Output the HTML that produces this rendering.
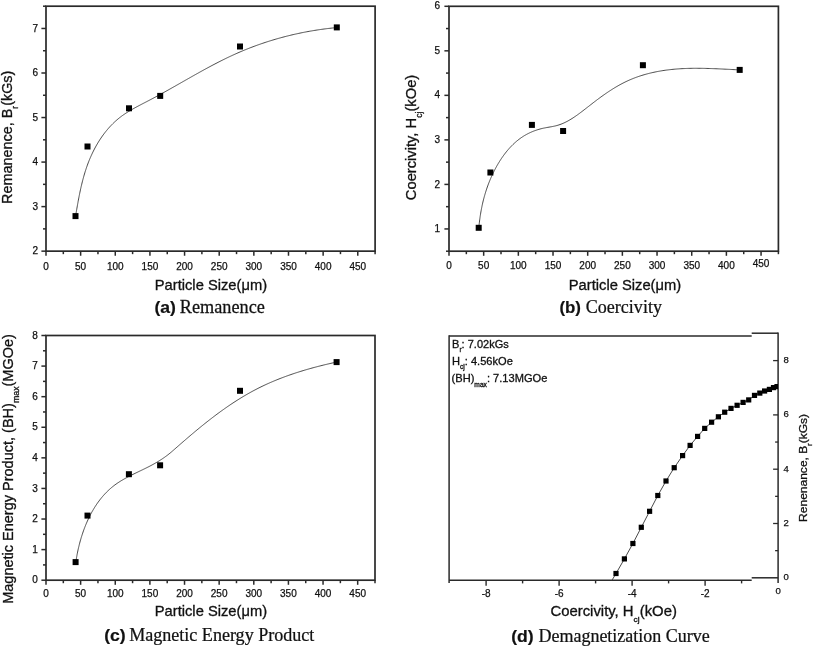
<!DOCTYPE html>
<html><head><meta charset="utf-8"><title>Figure</title>
<style>html,body{margin:0;padding:0;background:#fff;width:813px;height:647px;overflow:hidden}svg{display:block}</style>
</head><body>
<svg width="813" height="647" viewBox="0 0 813 647">
<rect width="813" height="647" fill="#fff"/>
<rect x="46.00" y="6.20" width="329.10" height="244.95" fill="none" stroke="#2a2a2a" stroke-width="1.7"/>
<line x1="46.00" y1="251.15" x2="46.00" y2="255.75" stroke="#2a2a2a" stroke-width="1.50"/>
<text x="46.00" y="270.10" font-family="Liberation Sans, Arial, sans-serif" font-size="10.00" font-weight="normal" text-anchor="middle" fill="#111" stroke="#111" stroke-width="0.25">0</text>
<line x1="63.32" y1="251.15" x2="63.32" y2="254.15" stroke="#2a2a2a" stroke-width="1.50"/>
<line x1="80.64" y1="251.15" x2="80.64" y2="255.75" stroke="#2a2a2a" stroke-width="1.50"/>
<text x="80.64" y="270.10" font-family="Liberation Sans, Arial, sans-serif" font-size="10.00" font-weight="normal" text-anchor="middle" fill="#111" stroke="#111" stroke-width="0.25">50</text>
<line x1="97.96" y1="251.15" x2="97.96" y2="254.15" stroke="#2a2a2a" stroke-width="1.50"/>
<line x1="115.28" y1="251.15" x2="115.28" y2="255.75" stroke="#2a2a2a" stroke-width="1.50"/>
<text x="115.28" y="270.10" font-family="Liberation Sans, Arial, sans-serif" font-size="10.00" font-weight="normal" text-anchor="middle" fill="#111" stroke="#111" stroke-width="0.25">100</text>
<line x1="132.61" y1="251.15" x2="132.61" y2="254.15" stroke="#2a2a2a" stroke-width="1.50"/>
<line x1="149.93" y1="251.15" x2="149.93" y2="255.75" stroke="#2a2a2a" stroke-width="1.50"/>
<text x="149.93" y="270.10" font-family="Liberation Sans, Arial, sans-serif" font-size="10.00" font-weight="normal" text-anchor="middle" fill="#111" stroke="#111" stroke-width="0.25">150</text>
<line x1="167.25" y1="251.15" x2="167.25" y2="254.15" stroke="#2a2a2a" stroke-width="1.50"/>
<line x1="184.57" y1="251.15" x2="184.57" y2="255.75" stroke="#2a2a2a" stroke-width="1.50"/>
<text x="184.57" y="270.10" font-family="Liberation Sans, Arial, sans-serif" font-size="10.00" font-weight="normal" text-anchor="middle" fill="#111" stroke="#111" stroke-width="0.25">200</text>
<line x1="201.89" y1="251.15" x2="201.89" y2="254.15" stroke="#2a2a2a" stroke-width="1.50"/>
<line x1="219.21" y1="251.15" x2="219.21" y2="255.75" stroke="#2a2a2a" stroke-width="1.50"/>
<text x="219.21" y="270.10" font-family="Liberation Sans, Arial, sans-serif" font-size="10.00" font-weight="normal" text-anchor="middle" fill="#111" stroke="#111" stroke-width="0.25">250</text>
<line x1="236.53" y1="251.15" x2="236.53" y2="254.15" stroke="#2a2a2a" stroke-width="1.50"/>
<line x1="253.85" y1="251.15" x2="253.85" y2="255.75" stroke="#2a2a2a" stroke-width="1.50"/>
<text x="253.85" y="270.10" font-family="Liberation Sans, Arial, sans-serif" font-size="10.00" font-weight="normal" text-anchor="middle" fill="#111" stroke="#111" stroke-width="0.25">300</text>
<line x1="271.17" y1="251.15" x2="271.17" y2="254.15" stroke="#2a2a2a" stroke-width="1.50"/>
<line x1="288.49" y1="251.15" x2="288.49" y2="255.75" stroke="#2a2a2a" stroke-width="1.50"/>
<text x="288.49" y="270.10" font-family="Liberation Sans, Arial, sans-serif" font-size="10.00" font-weight="normal" text-anchor="middle" fill="#111" stroke="#111" stroke-width="0.25">350</text>
<line x1="305.82" y1="251.15" x2="305.82" y2="254.15" stroke="#2a2a2a" stroke-width="1.50"/>
<line x1="323.14" y1="251.15" x2="323.14" y2="255.75" stroke="#2a2a2a" stroke-width="1.50"/>
<text x="323.14" y="270.10" font-family="Liberation Sans, Arial, sans-serif" font-size="10.00" font-weight="normal" text-anchor="middle" fill="#111" stroke="#111" stroke-width="0.25">400</text>
<line x1="340.46" y1="251.15" x2="340.46" y2="254.15" stroke="#2a2a2a" stroke-width="1.50"/>
<line x1="357.78" y1="251.15" x2="357.78" y2="255.75" stroke="#2a2a2a" stroke-width="1.50"/>
<text x="357.78" y="270.10" font-family="Liberation Sans, Arial, sans-serif" font-size="10.00" font-weight="normal" text-anchor="middle" fill="#111" stroke="#111" stroke-width="0.25">450</text>
<line x1="375.10" y1="251.15" x2="375.10" y2="254.15" stroke="#2a2a2a" stroke-width="1.50"/>
<line x1="41.40" y1="251.15" x2="46.00" y2="251.15" stroke="#2a2a2a" stroke-width="1.50"/>
<text x="38.00" y="254.25" font-family="Liberation Sans, Arial, sans-serif" font-size="10.00" font-weight="normal" text-anchor="end" fill="#111" stroke="#111" stroke-width="0.25">2</text>
<line x1="43.00" y1="228.88" x2="46.00" y2="228.88" stroke="#2a2a2a" stroke-width="1.50"/>
<line x1="41.40" y1="206.61" x2="46.00" y2="206.61" stroke="#2a2a2a" stroke-width="1.50"/>
<text x="38.00" y="209.71" font-family="Liberation Sans, Arial, sans-serif" font-size="10.00" font-weight="normal" text-anchor="end" fill="#111" stroke="#111" stroke-width="0.25">3</text>
<line x1="43.00" y1="184.35" x2="46.00" y2="184.35" stroke="#2a2a2a" stroke-width="1.50"/>
<line x1="41.40" y1="162.08" x2="46.00" y2="162.08" stroke="#2a2a2a" stroke-width="1.50"/>
<text x="38.00" y="165.18" font-family="Liberation Sans, Arial, sans-serif" font-size="10.00" font-weight="normal" text-anchor="end" fill="#111" stroke="#111" stroke-width="0.25">4</text>
<line x1="43.00" y1="139.81" x2="46.00" y2="139.81" stroke="#2a2a2a" stroke-width="1.50"/>
<line x1="41.40" y1="117.54" x2="46.00" y2="117.54" stroke="#2a2a2a" stroke-width="1.50"/>
<text x="38.00" y="120.64" font-family="Liberation Sans, Arial, sans-serif" font-size="10.00" font-weight="normal" text-anchor="end" fill="#111" stroke="#111" stroke-width="0.25">5</text>
<line x1="43.00" y1="95.27" x2="46.00" y2="95.27" stroke="#2a2a2a" stroke-width="1.50"/>
<line x1="41.40" y1="73.00" x2="46.00" y2="73.00" stroke="#2a2a2a" stroke-width="1.50"/>
<text x="38.00" y="76.10" font-family="Liberation Sans, Arial, sans-serif" font-size="10.00" font-weight="normal" text-anchor="end" fill="#111" stroke="#111" stroke-width="0.25">6</text>
<line x1="43.00" y1="50.74" x2="46.00" y2="50.74" stroke="#2a2a2a" stroke-width="1.50"/>
<line x1="41.40" y1="28.47" x2="46.00" y2="28.47" stroke="#2a2a2a" stroke-width="1.50"/>
<text x="38.00" y="31.57" font-family="Liberation Sans, Arial, sans-serif" font-size="10.00" font-weight="normal" text-anchor="end" fill="#111" stroke="#111" stroke-width="0.25">7</text>
<line x1="43.00" y1="6.20" x2="46.00" y2="6.20" stroke="#2a2a2a" stroke-width="1.50"/>
<path d="M75.59,216.03 L75.79,214.89 L75.98,213.76 L76.17,212.63 L76.37,211.49 L76.56,210.36 L76.76,209.22 L76.95,208.08 L77.15,206.95 L77.35,205.81 L77.55,204.67 L77.76,203.53 L77.97,202.39 L78.17,201.25 L78.39,200.10 L78.60,198.96 L78.82,197.82 L79.04,196.68 L79.26,195.54 L79.49,194.40 L79.72,193.26 L79.96,192.12 L80.20,190.98 L80.45,189.84 L80.70,188.70 L80.95,187.56 L81.21,186.42 L81.48,185.29 L81.75,184.15 L82.02,183.02 L82.31,181.89 L82.59,180.76 L82.89,179.63 L83.19,178.50 L83.50,177.37 L83.81,176.25 L84.13,175.12 L84.46,174.00 L84.80,172.88 L85.14,171.77 L85.50,170.65 L85.86,169.54 L86.22,168.43 L86.60,167.32 L86.99,166.22 L87.38,165.11 L87.79,164.01 L88.20,162.92 L88.62,161.82 L89.05,160.73 L89.49,159.64 L89.95,158.56 L90.41,157.48 L90.88,156.40 L91.36,155.33 L91.85,154.26 L92.35,153.20 L92.86,152.14 L93.38,151.09 L93.91,150.04 L94.45,148.99 L95.00,147.96 L95.56,146.93 L96.13,145.90 L96.71,144.88 L97.30,143.87 L97.90,142.86 L98.51,141.86 L99.13,140.87 L99.76,139.89 L100.40,138.91 L101.05,137.94 L101.71,136.98 L102.38,136.03 L103.06,135.08 L103.75,134.15 L104.45,133.22 L105.16,132.31 L105.88,131.40 L106.61,130.50 L107.35,129.61 L108.10,128.73 L108.86,127.87 L109.63,127.01 L110.42,126.16 L111.21,125.33 L112.01,124.50 L112.82,123.69 L113.65,122.89 L114.48,122.10 L115.33,121.32 L116.18,120.56 L117.05,119.80 L117.92,119.06 L118.81,118.34 L119.70,117.62 L120.61,116.92 L121.53,116.23 L122.46,115.56 L123.39,114.89 L124.34,114.24 L125.29,113.60 L126.25,112.97 L127.22,112.35 L128.20,111.74 L129.18,111.13 L130.17,110.54 L131.17,109.95 L132.17,109.37 L133.18,108.80 L134.19,108.23 L135.21,107.66 L136.23,107.11 L137.26,106.55 L138.29,106.01 L139.32,105.46 L140.35,104.92 L141.39,104.38 L142.42,103.84 L143.46,103.30 L144.50,102.76 L145.54,102.23 L146.58,101.69 L147.62,101.15 L148.66,100.61 L149.70,100.07 L150.74,99.53 L151.77,98.98 L152.81,98.43 L153.84,97.88 L154.87,97.33 L155.90,96.78 L156.93,96.22 L157.96,95.67 L158.98,95.11 L160.01,94.55 L161.04,93.99 L162.06,93.42 L163.08,92.86 L164.11,92.29 L165.13,91.72 L166.15,91.16 L167.17,90.59 L168.19,90.02 L169.21,89.44 L170.22,88.87 L171.24,88.30 L172.26,87.72 L173.27,87.15 L174.29,86.58 L175.30,86.00 L176.32,85.42 L177.33,84.85 L178.35,84.27 L179.36,83.69 L180.38,83.12 L181.39,82.54 L182.40,81.96 L183.42,81.39 L184.43,80.81 L185.44,80.23 L186.46,79.66 L187.47,79.08 L188.48,78.50 L189.50,77.93 L190.51,77.36 L191.52,76.78 L192.54,76.21 L193.55,75.64 L194.56,75.07 L195.58,74.50 L196.59,73.93 L197.61,73.36 L198.63,72.79 L199.64,72.23 L200.66,71.66 L201.68,71.10 L202.70,70.54 L203.71,69.98 L204.73,69.42 L205.75,68.86 L206.77,68.31 L207.80,67.76 L208.82,67.20 L209.84,66.66 L210.87,66.11 L211.89,65.56 L212.92,65.02 L213.95,64.48 L214.98,63.94 L216.01,63.41 L217.04,62.88 L218.07,62.34 L219.10,61.82 L220.14,61.29 L221.17,60.77 L222.21,60.25 L223.25,59.73 L224.29,59.22 L225.33,58.71 L226.37,58.20 L227.42,57.70 L228.46,57.20 L229.51,56.70 L230.56,56.21 L231.61,55.72 L232.66,55.23 L233.72,54.75 L234.78,54.27 L235.83,53.80 L236.89,53.32 L237.96,52.86 L239.02,52.39 L240.09,51.93 L241.16,51.48 L242.23,51.03 L243.30,50.58 L244.37,50.14 L245.45,49.70 L246.52,49.26 L247.60,48.83 L248.68,48.40 L249.77,47.98 L250.85,47.56 L251.94,47.15 L253.02,46.74 L254.11,46.33 L255.20,45.93 L256.30,45.53 L257.39,45.13 L258.49,44.74 L259.59,44.35 L260.68,43.97 L261.78,43.59 L262.89,43.22 L263.99,42.85 L265.10,42.48 L266.20,42.12 L267.31,41.76 L268.42,41.40 L269.53,41.05 L270.64,40.71 L271.76,40.36 L272.87,40.03 L273.99,39.69 L275.10,39.36 L276.22,39.03 L277.34,38.71 L278.46,38.39 L279.59,38.08 L280.71,37.77 L281.83,37.46 L282.96,37.16 L284.09,36.86 L285.22,36.57 L286.35,36.28 L287.48,36.00 L288.61,35.71 L289.74,35.44 L290.87,35.16 L292.01,34.89 L293.14,34.63 L294.28,34.37 L295.42,34.11 L296.56,33.86 L297.70,33.61 L298.84,33.36 L299.98,33.12 L301.12,32.89 L302.26,32.65 L303.40,32.42 L304.55,32.20 L305.69,31.98 L306.84,31.76 L307.99,31.55 L309.13,31.34 L310.28,31.14 L311.43,30.94 L312.58,30.74 L313.73,30.55 L314.88,30.36 L316.03,30.18 L317.18,30.00 L318.33,29.82 L319.49,29.65 L320.64,29.49 L321.79,29.32 L322.95,29.16 L324.10,29.01 L325.26,28.86 L326.41,28.71 L327.57,28.57 L328.73,28.43 L329.88,28.30 L331.04,28.17 L332.20,28.04 L333.36,27.92 L334.51,27.80 L335.67,27.69 L336.83,27.58" fill="none" stroke="#4a4a4a" stroke-width="1.0"/>
<rect x="72.50" y="213.10" width="6.00" height="6.00" fill="#000"/>
<rect x="84.50" y="143.50" width="6.00" height="6.00" fill="#000"/>
<rect x="126.00" y="105.30" width="6.00" height="6.00" fill="#000"/>
<rect x="157.20" y="92.90" width="6.00" height="6.00" fill="#000"/>
<rect x="237.00" y="43.50" width="6.00" height="6.00" fill="#000"/>
<rect x="333.80" y="24.40" width="6.00" height="6.00" fill="#000"/>
<rect x="449.00" y="6.30" width="329.40" height="244.90" fill="none" stroke="#2a2a2a" stroke-width="1.7"/>
<line x1="449.00" y1="251.20" x2="449.00" y2="255.80" stroke="#2a2a2a" stroke-width="1.50"/>
<text x="449.00" y="269.40" font-family="Liberation Sans, Arial, sans-serif" font-size="10.00" font-weight="normal" text-anchor="middle" fill="#111" stroke="#111" stroke-width="0.25">0</text>
<line x1="466.34" y1="251.20" x2="466.34" y2="254.20" stroke="#2a2a2a" stroke-width="1.50"/>
<line x1="483.67" y1="251.20" x2="483.67" y2="255.80" stroke="#2a2a2a" stroke-width="1.50"/>
<text x="483.67" y="269.40" font-family="Liberation Sans, Arial, sans-serif" font-size="10.00" font-weight="normal" text-anchor="middle" fill="#111" stroke="#111" stroke-width="0.25">50</text>
<line x1="501.01" y1="251.20" x2="501.01" y2="254.20" stroke="#2a2a2a" stroke-width="1.50"/>
<line x1="518.35" y1="251.20" x2="518.35" y2="255.80" stroke="#2a2a2a" stroke-width="1.50"/>
<text x="518.35" y="269.40" font-family="Liberation Sans, Arial, sans-serif" font-size="10.00" font-weight="normal" text-anchor="middle" fill="#111" stroke="#111" stroke-width="0.25">100</text>
<line x1="535.68" y1="251.20" x2="535.68" y2="254.20" stroke="#2a2a2a" stroke-width="1.50"/>
<line x1="553.02" y1="251.20" x2="553.02" y2="255.80" stroke="#2a2a2a" stroke-width="1.50"/>
<text x="553.02" y="269.40" font-family="Liberation Sans, Arial, sans-serif" font-size="10.00" font-weight="normal" text-anchor="middle" fill="#111" stroke="#111" stroke-width="0.25">150</text>
<line x1="570.36" y1="251.20" x2="570.36" y2="254.20" stroke="#2a2a2a" stroke-width="1.50"/>
<line x1="587.69" y1="251.20" x2="587.69" y2="255.80" stroke="#2a2a2a" stroke-width="1.50"/>
<text x="587.69" y="269.40" font-family="Liberation Sans, Arial, sans-serif" font-size="10.00" font-weight="normal" text-anchor="middle" fill="#111" stroke="#111" stroke-width="0.25">200</text>
<line x1="605.03" y1="251.20" x2="605.03" y2="254.20" stroke="#2a2a2a" stroke-width="1.50"/>
<line x1="622.37" y1="251.20" x2="622.37" y2="255.80" stroke="#2a2a2a" stroke-width="1.50"/>
<text x="622.37" y="269.40" font-family="Liberation Sans, Arial, sans-serif" font-size="10.00" font-weight="normal" text-anchor="middle" fill="#111" stroke="#111" stroke-width="0.25">250</text>
<line x1="639.71" y1="251.20" x2="639.71" y2="254.20" stroke="#2a2a2a" stroke-width="1.50"/>
<line x1="657.04" y1="251.20" x2="657.04" y2="255.80" stroke="#2a2a2a" stroke-width="1.50"/>
<text x="657.04" y="269.40" font-family="Liberation Sans, Arial, sans-serif" font-size="10.00" font-weight="normal" text-anchor="middle" fill="#111" stroke="#111" stroke-width="0.25">300</text>
<line x1="674.38" y1="251.20" x2="674.38" y2="254.20" stroke="#2a2a2a" stroke-width="1.50"/>
<line x1="691.72" y1="251.20" x2="691.72" y2="255.80" stroke="#2a2a2a" stroke-width="1.50"/>
<text x="691.72" y="269.40" font-family="Liberation Sans, Arial, sans-serif" font-size="10.00" font-weight="normal" text-anchor="middle" fill="#111" stroke="#111" stroke-width="0.25">350</text>
<line x1="709.05" y1="251.20" x2="709.05" y2="254.20" stroke="#2a2a2a" stroke-width="1.50"/>
<line x1="726.39" y1="251.20" x2="726.39" y2="255.80" stroke="#2a2a2a" stroke-width="1.50"/>
<text x="726.39" y="269.40" font-family="Liberation Sans, Arial, sans-serif" font-size="10.00" font-weight="normal" text-anchor="middle" fill="#111" stroke="#111" stroke-width="0.25">400</text>
<line x1="743.73" y1="251.20" x2="743.73" y2="254.20" stroke="#2a2a2a" stroke-width="1.50"/>
<line x1="761.06" y1="251.20" x2="761.06" y2="255.80" stroke="#2a2a2a" stroke-width="1.50"/>
<text x="761.06" y="267.20" font-family="Liberation Sans, Arial, sans-serif" font-size="10.00" font-weight="normal" text-anchor="middle" fill="#111" stroke="#111" stroke-width="0.25">450</text>
<line x1="778.40" y1="251.20" x2="778.40" y2="254.20" stroke="#2a2a2a" stroke-width="1.50"/>
<line x1="446.00" y1="251.20" x2="449.00" y2="251.20" stroke="#2a2a2a" stroke-width="1.50"/>
<line x1="444.40" y1="228.94" x2="449.00" y2="228.94" stroke="#2a2a2a" stroke-width="1.50"/>
<text x="440.00" y="232.04" font-family="Liberation Sans, Arial, sans-serif" font-size="10.00" font-weight="normal" text-anchor="end" fill="#111" stroke="#111" stroke-width="0.25">1</text>
<line x1="446.00" y1="206.67" x2="449.00" y2="206.67" stroke="#2a2a2a" stroke-width="1.50"/>
<line x1="444.40" y1="184.41" x2="449.00" y2="184.41" stroke="#2a2a2a" stroke-width="1.50"/>
<text x="440.00" y="187.51" font-family="Liberation Sans, Arial, sans-serif" font-size="10.00" font-weight="normal" text-anchor="end" fill="#111" stroke="#111" stroke-width="0.25">2</text>
<line x1="446.00" y1="162.15" x2="449.00" y2="162.15" stroke="#2a2a2a" stroke-width="1.50"/>
<line x1="444.40" y1="139.88" x2="449.00" y2="139.88" stroke="#2a2a2a" stroke-width="1.50"/>
<text x="440.00" y="142.98" font-family="Liberation Sans, Arial, sans-serif" font-size="10.00" font-weight="normal" text-anchor="end" fill="#111" stroke="#111" stroke-width="0.25">3</text>
<line x1="446.00" y1="117.62" x2="449.00" y2="117.62" stroke="#2a2a2a" stroke-width="1.50"/>
<line x1="444.40" y1="95.35" x2="449.00" y2="95.35" stroke="#2a2a2a" stroke-width="1.50"/>
<text x="440.00" y="98.45" font-family="Liberation Sans, Arial, sans-serif" font-size="10.00" font-weight="normal" text-anchor="end" fill="#111" stroke="#111" stroke-width="0.25">4</text>
<line x1="446.00" y1="73.09" x2="449.00" y2="73.09" stroke="#2a2a2a" stroke-width="1.50"/>
<line x1="444.40" y1="50.83" x2="449.00" y2="50.83" stroke="#2a2a2a" stroke-width="1.50"/>
<text x="440.00" y="53.93" font-family="Liberation Sans, Arial, sans-serif" font-size="10.00" font-weight="normal" text-anchor="end" fill="#111" stroke="#111" stroke-width="0.25">5</text>
<line x1="446.00" y1="28.56" x2="449.00" y2="28.56" stroke="#2a2a2a" stroke-width="1.50"/>
<line x1="444.40" y1="6.30" x2="449.00" y2="6.30" stroke="#2a2a2a" stroke-width="1.50"/>
<text x="440.00" y="9.40" font-family="Liberation Sans, Arial, sans-serif" font-size="10.00" font-weight="normal" text-anchor="end" fill="#111" stroke="#111" stroke-width="0.25">6</text>
<path d="M478.82,227.88 L478.93,226.72 L479.04,225.57 L479.16,224.42 L479.28,223.27 L479.41,222.13 L479.55,220.99 L479.70,219.85 L479.85,218.72 L480.00,217.59 L480.17,216.46 L480.34,215.33 L480.51,214.21 L480.70,213.09 L480.89,211.97 L481.08,210.85 L481.29,209.74 L481.50,208.63 L481.72,207.52 L481.94,206.42 L482.18,205.32 L482.42,204.22 L482.67,203.12 L482.92,202.03 L483.18,200.94 L483.46,199.85 L483.73,198.76 L484.02,197.68 L484.32,196.60 L484.62,195.52 L484.93,194.45 L485.25,193.37 L485.57,192.30 L485.91,191.23 L486.25,190.17 L486.60,189.11 L486.96,188.05 L487.33,186.99 L487.71,185.94 L488.10,184.88 L488.49,183.83 L488.90,182.79 L489.31,181.74 L489.73,180.70 L490.16,179.66 L490.60,178.62 L491.05,177.59 L491.51,176.56 L491.98,175.53 L492.45,174.50 L492.94,173.47 L493.44,172.45 L493.94,171.43 L494.46,170.41 L494.98,169.40 L495.52,168.39 L496.06,167.38 L496.62,166.37 L497.18,165.37 L497.76,164.38 L498.34,163.39 L498.94,162.41 L499.54,161.43 L500.16,160.46 L500.78,159.49 L501.42,158.53 L502.07,157.58 L502.72,156.64 L503.39,155.71 L504.07,154.78 L504.75,153.86 L505.45,152.96 L506.16,152.06 L506.88,151.17 L507.61,150.29 L508.35,149.43 L509.10,148.57 L509.87,147.73 L510.64,146.90 L511.43,146.08 L512.22,145.28 L513.03,144.48 L513.85,143.70 L514.67,142.94 L515.51,142.19 L516.37,141.45 L517.23,140.73 L518.10,140.03 L518.99,139.34 L519.88,138.67 L520.79,138.01 L521.71,137.37 L522.64,136.75 L523.58,136.15 L524.54,135.56 L525.50,135.00 L526.48,134.45 L527.47,133.92 L528.47,133.41 L529.48,132.92 L530.50,132.44 L531.52,131.99 L532.56,131.55 L533.61,131.13 L534.66,130.73 L535.73,130.35 L536.80,129.99 L537.88,129.64 L538.97,129.32 L540.06,129.01 L541.16,128.72 L542.27,128.45 L543.39,128.20 L544.51,127.97 L545.63,127.75 L546.76,127.54 L547.89,127.34 L549.02,127.15 L550.15,126.95 L551.27,126.75 L552.40,126.54 L553.51,126.32 L554.62,126.08 L555.72,125.83 L556.81,125.55 L557.89,125.24 L558.96,124.90 L560.01,124.54 L561.06,124.16 L562.10,123.75 L563.13,123.31 L564.14,122.86 L565.15,122.39 L566.15,121.89 L567.14,121.38 L568.13,120.85 L569.10,120.30 L570.07,119.73 L571.03,119.15 L571.99,118.56 L572.94,117.95 L573.88,117.33 L574.82,116.70 L575.75,116.06 L576.68,115.41 L577.60,114.75 L578.52,114.09 L579.43,113.41 L580.34,112.74 L581.25,112.05 L582.15,111.37 L583.06,110.68 L583.96,109.98 L584.85,109.29 L585.75,108.59 L586.64,107.90 L587.54,107.20 L588.43,106.50 L589.33,105.80 L590.22,105.10 L591.12,104.41 L592.01,103.71 L592.91,103.01 L593.81,102.32 L594.71,101.63 L595.62,100.94 L596.52,100.26 L597.43,99.57 L598.34,98.89 L599.26,98.22 L600.17,97.54 L601.09,96.87 L602.01,96.21 L602.93,95.55 L603.86,94.89 L604.79,94.24 L605.72,93.59 L606.66,92.95 L607.60,92.31 L608.54,91.68 L609.49,91.06 L610.43,90.44 L611.39,89.83 L612.34,89.22 L613.30,88.62 L614.27,88.03 L615.23,87.45 L616.21,86.87 L617.18,86.30 L618.16,85.74 L619.14,85.18 L620.13,84.64 L621.12,84.10 L622.12,83.57 L623.12,83.05 L624.13,82.54 L625.14,82.04 L626.15,81.55 L627.17,81.07 L628.20,80.60 L629.22,80.14 L630.26,79.69 L631.30,79.25 L632.34,78.82 L633.39,78.40 L634.44,77.99 L635.50,77.59 L636.56,77.20 L637.63,76.82 L638.69,76.45 L639.77,76.09 L640.84,75.74 L641.92,75.40 L643.01,75.07 L644.09,74.75 L645.18,74.43 L646.27,74.13 L647.37,73.84 L648.46,73.55 L649.56,73.27 L650.67,73.00 L651.77,72.74 L652.88,72.49 L653.98,72.25 L655.10,72.02 L656.21,71.79 L657.32,71.57 L658.43,71.36 L659.55,71.16 L660.67,70.97 L661.79,70.78 L662.91,70.60 L664.03,70.43 L665.15,70.27 L666.27,70.12 L667.39,69.97 L668.51,69.83 L669.63,69.70 L670.76,69.57 L671.88,69.45 L673.01,69.34 L674.13,69.23 L675.26,69.13 L676.38,69.04 L677.51,68.95 L678.64,68.87 L679.76,68.79 L680.89,68.73 L682.02,68.66 L683.15,68.60 L684.28,68.55 L685.41,68.50 L686.54,68.46 L687.67,68.42 L688.80,68.39 L689.93,68.37 L691.06,68.34 L692.19,68.32 L693.32,68.31 L694.45,68.30 L695.59,68.29 L696.72,68.29 L697.85,68.30 L698.98,68.30 L700.11,68.31 L701.25,68.32 L702.38,68.34 L703.51,68.36 L704.65,68.38 L705.78,68.41 L706.91,68.44 L708.04,68.47 L709.18,68.50 L710.31,68.54 L711.44,68.57 L712.57,68.61 L713.71,68.66 L714.84,68.70 L715.97,68.75 L717.10,68.79 L718.24,68.84 L719.37,68.89 L720.50,68.95 L721.63,69.00 L722.76,69.05 L723.89,69.11 L725.03,69.16 L726.16,69.22 L727.29,69.28 L728.42,69.33 L729.55,69.39 L730.67,69.45 L731.80,69.50 L732.93,69.56 L734.06,69.62 L735.19,69.67 L736.32,69.73 L737.44,69.78 L738.57,69.84 L739.69,69.89" fill="none" stroke="#4a4a4a" stroke-width="1.0"/>
<rect x="475.70" y="224.80" width="6.00" height="6.00" fill="#000"/>
<rect x="487.40" y="169.50" width="6.00" height="6.00" fill="#000"/>
<rect x="528.90" y="121.90" width="6.00" height="6.00" fill="#000"/>
<rect x="560.10" y="128.00" width="6.00" height="6.00" fill="#000"/>
<rect x="639.90" y="62.20" width="6.00" height="6.00" fill="#000"/>
<rect x="736.70" y="66.90" width="6.00" height="6.00" fill="#000"/>
<rect x="46.00" y="335.50" width="329.00" height="244.70" fill="none" stroke="#2a2a2a" stroke-width="1.7"/>
<line x1="46.00" y1="580.20" x2="46.00" y2="584.80" stroke="#2a2a2a" stroke-width="1.50"/>
<text x="46.00" y="596.90" font-family="Liberation Sans, Arial, sans-serif" font-size="10.00" font-weight="normal" text-anchor="middle" fill="#111" stroke="#111" stroke-width="0.25">0</text>
<line x1="63.32" y1="580.20" x2="63.32" y2="583.20" stroke="#2a2a2a" stroke-width="1.50"/>
<line x1="80.63" y1="580.20" x2="80.63" y2="584.80" stroke="#2a2a2a" stroke-width="1.50"/>
<text x="80.63" y="596.90" font-family="Liberation Sans, Arial, sans-serif" font-size="10.00" font-weight="normal" text-anchor="middle" fill="#111" stroke="#111" stroke-width="0.25">50</text>
<line x1="97.95" y1="580.20" x2="97.95" y2="583.20" stroke="#2a2a2a" stroke-width="1.50"/>
<line x1="115.26" y1="580.20" x2="115.26" y2="584.80" stroke="#2a2a2a" stroke-width="1.50"/>
<text x="115.26" y="596.90" font-family="Liberation Sans, Arial, sans-serif" font-size="10.00" font-weight="normal" text-anchor="middle" fill="#111" stroke="#111" stroke-width="0.25">100</text>
<line x1="132.58" y1="580.20" x2="132.58" y2="583.20" stroke="#2a2a2a" stroke-width="1.50"/>
<line x1="149.89" y1="580.20" x2="149.89" y2="584.80" stroke="#2a2a2a" stroke-width="1.50"/>
<text x="149.89" y="596.90" font-family="Liberation Sans, Arial, sans-serif" font-size="10.00" font-weight="normal" text-anchor="middle" fill="#111" stroke="#111" stroke-width="0.25">150</text>
<line x1="167.21" y1="580.20" x2="167.21" y2="583.20" stroke="#2a2a2a" stroke-width="1.50"/>
<line x1="184.53" y1="580.20" x2="184.53" y2="584.80" stroke="#2a2a2a" stroke-width="1.50"/>
<text x="184.53" y="596.90" font-family="Liberation Sans, Arial, sans-serif" font-size="10.00" font-weight="normal" text-anchor="middle" fill="#111" stroke="#111" stroke-width="0.25">200</text>
<line x1="201.84" y1="580.20" x2="201.84" y2="583.20" stroke="#2a2a2a" stroke-width="1.50"/>
<line x1="219.16" y1="580.20" x2="219.16" y2="584.80" stroke="#2a2a2a" stroke-width="1.50"/>
<text x="219.16" y="596.90" font-family="Liberation Sans, Arial, sans-serif" font-size="10.00" font-weight="normal" text-anchor="middle" fill="#111" stroke="#111" stroke-width="0.25">250</text>
<line x1="236.47" y1="580.20" x2="236.47" y2="583.20" stroke="#2a2a2a" stroke-width="1.50"/>
<line x1="253.79" y1="580.20" x2="253.79" y2="584.80" stroke="#2a2a2a" stroke-width="1.50"/>
<text x="253.79" y="596.90" font-family="Liberation Sans, Arial, sans-serif" font-size="10.00" font-weight="normal" text-anchor="middle" fill="#111" stroke="#111" stroke-width="0.25">300</text>
<line x1="271.11" y1="580.20" x2="271.11" y2="583.20" stroke="#2a2a2a" stroke-width="1.50"/>
<line x1="288.42" y1="580.20" x2="288.42" y2="584.80" stroke="#2a2a2a" stroke-width="1.50"/>
<text x="288.42" y="596.90" font-family="Liberation Sans, Arial, sans-serif" font-size="10.00" font-weight="normal" text-anchor="middle" fill="#111" stroke="#111" stroke-width="0.25">350</text>
<line x1="305.74" y1="580.20" x2="305.74" y2="583.20" stroke="#2a2a2a" stroke-width="1.50"/>
<line x1="323.05" y1="580.20" x2="323.05" y2="584.80" stroke="#2a2a2a" stroke-width="1.50"/>
<text x="323.05" y="596.90" font-family="Liberation Sans, Arial, sans-serif" font-size="10.00" font-weight="normal" text-anchor="middle" fill="#111" stroke="#111" stroke-width="0.25">400</text>
<line x1="340.37" y1="580.20" x2="340.37" y2="583.20" stroke="#2a2a2a" stroke-width="1.50"/>
<line x1="357.68" y1="580.20" x2="357.68" y2="584.80" stroke="#2a2a2a" stroke-width="1.50"/>
<text x="357.68" y="596.90" font-family="Liberation Sans, Arial, sans-serif" font-size="10.00" font-weight="normal" text-anchor="middle" fill="#111" stroke="#111" stroke-width="0.25">450</text>
<line x1="375.00" y1="580.20" x2="375.00" y2="583.20" stroke="#2a2a2a" stroke-width="1.50"/>
<line x1="41.40" y1="580.20" x2="46.00" y2="580.20" stroke="#2a2a2a" stroke-width="1.50"/>
<text x="37.80" y="583.30" font-family="Liberation Sans, Arial, sans-serif" font-size="10.00" font-weight="normal" text-anchor="end" fill="#111" stroke="#111" stroke-width="0.25">0</text>
<line x1="43.00" y1="564.91" x2="46.00" y2="564.91" stroke="#2a2a2a" stroke-width="1.50"/>
<line x1="41.40" y1="549.61" x2="46.00" y2="549.61" stroke="#2a2a2a" stroke-width="1.50"/>
<text x="37.80" y="552.71" font-family="Liberation Sans, Arial, sans-serif" font-size="10.00" font-weight="normal" text-anchor="end" fill="#111" stroke="#111" stroke-width="0.25">1</text>
<line x1="43.00" y1="534.32" x2="46.00" y2="534.32" stroke="#2a2a2a" stroke-width="1.50"/>
<line x1="41.40" y1="519.03" x2="46.00" y2="519.03" stroke="#2a2a2a" stroke-width="1.50"/>
<text x="37.80" y="522.13" font-family="Liberation Sans, Arial, sans-serif" font-size="10.00" font-weight="normal" text-anchor="end" fill="#111" stroke="#111" stroke-width="0.25">2</text>
<line x1="43.00" y1="503.73" x2="46.00" y2="503.73" stroke="#2a2a2a" stroke-width="1.50"/>
<line x1="41.40" y1="488.44" x2="46.00" y2="488.44" stroke="#2a2a2a" stroke-width="1.50"/>
<text x="37.80" y="491.54" font-family="Liberation Sans, Arial, sans-serif" font-size="10.00" font-weight="normal" text-anchor="end" fill="#111" stroke="#111" stroke-width="0.25">3</text>
<line x1="43.00" y1="473.14" x2="46.00" y2="473.14" stroke="#2a2a2a" stroke-width="1.50"/>
<line x1="41.40" y1="457.85" x2="46.00" y2="457.85" stroke="#2a2a2a" stroke-width="1.50"/>
<text x="37.80" y="460.95" font-family="Liberation Sans, Arial, sans-serif" font-size="10.00" font-weight="normal" text-anchor="end" fill="#111" stroke="#111" stroke-width="0.25">4</text>
<line x1="43.00" y1="442.56" x2="46.00" y2="442.56" stroke="#2a2a2a" stroke-width="1.50"/>
<line x1="41.40" y1="427.26" x2="46.00" y2="427.26" stroke="#2a2a2a" stroke-width="1.50"/>
<text x="37.80" y="430.36" font-family="Liberation Sans, Arial, sans-serif" font-size="10.00" font-weight="normal" text-anchor="end" fill="#111" stroke="#111" stroke-width="0.25">5</text>
<line x1="43.00" y1="411.97" x2="46.00" y2="411.97" stroke="#2a2a2a" stroke-width="1.50"/>
<line x1="41.40" y1="396.68" x2="46.00" y2="396.68" stroke="#2a2a2a" stroke-width="1.50"/>
<text x="37.80" y="399.78" font-family="Liberation Sans, Arial, sans-serif" font-size="10.00" font-weight="normal" text-anchor="end" fill="#111" stroke="#111" stroke-width="0.25">6</text>
<line x1="43.00" y1="381.38" x2="46.00" y2="381.38" stroke="#2a2a2a" stroke-width="1.50"/>
<line x1="41.40" y1="366.09" x2="46.00" y2="366.09" stroke="#2a2a2a" stroke-width="1.50"/>
<text x="37.80" y="369.19" font-family="Liberation Sans, Arial, sans-serif" font-size="10.00" font-weight="normal" text-anchor="end" fill="#111" stroke="#111" stroke-width="0.25">7</text>
<line x1="43.00" y1="350.79" x2="46.00" y2="350.79" stroke="#2a2a2a" stroke-width="1.50"/>
<line x1="41.40" y1="335.50" x2="46.00" y2="335.50" stroke="#2a2a2a" stroke-width="1.50"/>
<text x="37.80" y="338.60" font-family="Liberation Sans, Arial, sans-serif" font-size="10.00" font-weight="normal" text-anchor="end" fill="#111" stroke="#111" stroke-width="0.25">8</text>
<path d="M75.86,561.99 L76.02,560.90 L76.19,559.81 L76.36,558.72 L76.55,557.62 L76.74,556.52 L76.94,555.42 L77.15,554.31 L77.37,553.20 L77.59,552.09 L77.82,550.98 L78.06,549.86 L78.31,548.75 L78.57,547.63 L78.83,546.51 L79.11,545.39 L79.39,544.27 L79.68,543.15 L79.98,542.03 L80.28,540.91 L80.60,539.80 L80.93,538.68 L81.26,537.56 L81.60,536.45 L81.96,535.33 L82.32,534.22 L82.69,533.11 L83.07,532.00 L83.45,530.89 L83.85,529.79 L84.26,528.69 L84.68,527.59 L85.10,526.50 L85.54,525.41 L85.98,524.32 L86.44,523.24 L86.90,522.17 L87.38,521.09 L87.86,520.03 L88.35,518.96 L88.86,517.91 L89.37,516.85 L89.89,515.81 L90.43,514.77 L90.97,513.74 L91.53,512.71 L92.09,511.69 L92.67,510.68 L93.25,509.67 L93.85,508.68 L94.45,507.69 L95.07,506.71 L95.70,505.73 L96.34,504.77 L96.98,503.81 L97.64,502.87 L98.32,501.93 L99.00,501.00 L99.69,500.08 L100.39,499.18 L101.11,498.28 L101.84,497.39 L102.57,496.52 L103.32,495.65 L104.08,494.80 L104.85,493.96 L105.64,493.13 L106.43,492.31 L107.24,491.50 L108.06,490.71 L108.89,489.93 L109.73,489.16 L110.58,488.41 L111.45,487.67 L112.33,486.94 L113.22,486.23 L114.12,485.53 L115.03,484.84 L115.96,484.17 L116.89,483.52 L117.84,482.87 L118.80,482.24 L119.77,481.62 L120.74,481.01 L121.73,480.41 L122.72,479.83 L123.72,479.25 L124.73,478.68 L125.75,478.12 L126.77,477.56 L127.80,477.02 L128.83,476.48 L129.87,475.94 L130.91,475.41 L131.95,474.89 L133.00,474.37 L134.05,473.85 L135.10,473.34 L136.16,472.83 L137.21,472.32 L138.27,471.81 L139.33,471.31 L140.38,470.80 L141.44,470.29 L142.49,469.79 L143.54,469.28 L144.59,468.77 L145.64,468.25 L146.68,467.73 L147.72,467.21 L148.76,466.69 L149.79,466.16 L150.81,465.62 L151.83,465.08 L152.84,464.53 L153.85,463.97 L154.85,463.41 L155.84,462.84 L156.83,462.26 L157.81,461.68 L158.79,461.09 L159.75,460.48 L160.71,459.87 L161.67,459.25 L162.62,458.62 L163.56,457.98 L164.49,457.33 L165.42,456.67 L166.34,456.00 L167.25,455.32 L168.15,454.62 L169.05,453.92 L169.94,453.20 L170.82,452.47 L171.69,451.73 L172.56,450.98 L173.43,450.23 L174.29,449.47 L175.16,448.71 L176.02,447.95 L176.88,447.19 L177.75,446.43 L178.62,445.67 L179.48,444.91 L180.35,444.15 L181.22,443.40 L182.09,442.64 L182.96,441.88 L183.84,441.13 L184.71,440.37 L185.58,439.62 L186.46,438.86 L187.33,438.11 L188.21,437.36 L189.09,436.61 L189.97,435.86 L190.85,435.11 L191.73,434.37 L192.61,433.62 L193.50,432.88 L194.38,432.13 L195.27,431.39 L196.16,430.65 L197.05,429.92 L197.94,429.18 L198.83,428.44 L199.73,427.71 L200.62,426.98 L201.52,426.25 L202.42,425.52 L203.32,424.80 L204.22,424.07 L205.12,423.35 L206.03,422.63 L206.93,421.91 L207.84,421.20 L208.75,420.48 L209.66,419.77 L210.57,419.07 L211.49,418.36 L212.40,417.66 L213.32,416.96 L214.24,416.26 L215.16,415.56 L216.09,414.87 L217.01,414.18 L217.94,413.49 L218.87,412.81 L219.80,412.12 L220.73,411.45 L221.67,410.77 L222.61,410.10 L223.55,409.43 L224.49,408.76 L225.43,408.10 L226.38,407.44 L227.32,406.78 L228.27,406.13 L229.23,405.48 L230.18,404.84 L231.14,404.19 L232.10,403.55 L233.06,402.92 L234.02,402.29 L234.99,401.66 L235.96,401.04 L236.93,400.42 L237.90,399.80 L238.88,399.19 L239.85,398.58 L240.83,397.98 L241.82,397.38 L242.80,396.79 L243.79,396.20 L244.78,395.61 L245.78,395.03 L246.77,394.45 L247.77,393.88 L248.77,393.31 L249.78,392.75 L250.78,392.19 L251.79,391.63 L252.81,391.08 L253.82,390.54 L254.84,390.00 L255.86,389.47 L256.89,388.94 L257.91,388.41 L258.94,387.89 L259.98,387.38 L261.01,386.87 L262.05,386.37 L263.09,385.87 L264.14,385.37 L265.18,384.88 L266.23,384.40 L267.28,383.92 L268.34,383.45 L269.40,382.98 L270.45,382.51 L271.52,382.05 L272.58,381.60 L273.65,381.15 L274.71,380.70 L275.79,380.26 L276.86,379.82 L277.93,379.39 L279.01,378.96 L280.09,378.54 L281.17,378.12 L282.25,377.71 L283.34,377.30 L284.42,376.89 L285.51,376.49 L286.60,376.09 L287.69,375.70 L288.78,375.31 L289.88,374.93 L290.97,374.55 L292.07,374.17 L293.17,373.80 L294.27,373.43 L295.37,373.06 L296.47,372.70 L297.57,372.35 L298.68,372.00 L299.78,371.65 L300.89,371.30 L302.00,370.96 L303.11,370.63 L304.22,370.29 L305.33,369.96 L306.44,369.64 L307.55,369.31 L308.66,369.00 L309.77,368.68 L310.88,368.37 L312.00,368.06 L313.11,367.76 L314.23,367.45 L315.34,367.16 L316.46,366.86 L317.57,366.57 L318.69,366.28 L319.80,366.00 L320.92,365.72 L322.03,365.44 L323.15,365.16 L324.26,364.89 L325.38,364.62 L326.50,364.36 L327.61,364.09 L328.73,363.83 L329.84,363.58 L330.95,363.32 L332.07,363.07 L333.18,362.82 L334.29,362.58 L335.41,362.33 L336.52,362.09" fill="none" stroke="#4a4a4a" stroke-width="1.0"/>
<rect x="72.60" y="559.10" width="6.00" height="6.00" fill="#000"/>
<rect x="84.50" y="512.60" width="6.00" height="6.00" fill="#000"/>
<rect x="125.90" y="471.20" width="6.00" height="6.00" fill="#000"/>
<rect x="157.10" y="462.30" width="6.00" height="6.00" fill="#000"/>
<rect x="237.00" y="387.80" width="6.00" height="6.00" fill="#000"/>
<rect x="333.60" y="359.10" width="6.00" height="6.00" fill="#000"/>
<line x1="449.10" y1="336.00" x2="751.70" y2="336.00" stroke="#2a2a2a" stroke-width="1.50"/>
<line x1="751.70" y1="333.20" x2="778.10" y2="333.20" stroke="#2a2a2a" stroke-width="1.50"/>
<line x1="449.10" y1="580.20" x2="751.70" y2="580.20" stroke="#2a2a2a" stroke-width="1.50"/>
<line x1="751.70" y1="577.80" x2="778.10" y2="577.80" stroke="#2a2a2a" stroke-width="1.50"/>
<line x1="449.10" y1="335.30" x2="449.10" y2="583.00" stroke="#2a2a2a" stroke-width="1.50"/>
<line x1="778.10" y1="332.50" x2="778.10" y2="583.00" stroke="#2a2a2a" stroke-width="1.50"/>
<line x1="486.10" y1="580.20" x2="486.10" y2="585.80" stroke="#2a2a2a" stroke-width="1.40"/>
<text x="486.10" y="596.50" font-family="Liberation Sans, Arial, sans-serif" font-size="10.00" font-weight="normal" text-anchor="middle" fill="#111" stroke="#111" stroke-width="0.25">-8</text>
<line x1="522.60" y1="580.20" x2="522.60" y2="583.40" stroke="#2a2a2a" stroke-width="1.40"/>
<line x1="559.10" y1="580.20" x2="559.10" y2="585.80" stroke="#2a2a2a" stroke-width="1.40"/>
<text x="559.10" y="596.50" font-family="Liberation Sans, Arial, sans-serif" font-size="10.00" font-weight="normal" text-anchor="middle" fill="#111" stroke="#111" stroke-width="0.25">-6</text>
<line x1="595.60" y1="580.20" x2="595.60" y2="583.40" stroke="#2a2a2a" stroke-width="1.40"/>
<line x1="632.10" y1="580.20" x2="632.10" y2="585.80" stroke="#2a2a2a" stroke-width="1.40"/>
<text x="632.10" y="596.50" font-family="Liberation Sans, Arial, sans-serif" font-size="10.00" font-weight="normal" text-anchor="middle" fill="#111" stroke="#111" stroke-width="0.25">-4</text>
<line x1="668.60" y1="580.20" x2="668.60" y2="583.40" stroke="#2a2a2a" stroke-width="1.40"/>
<line x1="705.10" y1="580.20" x2="705.10" y2="585.80" stroke="#2a2a2a" stroke-width="1.40"/>
<text x="705.10" y="596.50" font-family="Liberation Sans, Arial, sans-serif" font-size="10.00" font-weight="normal" text-anchor="middle" fill="#111" stroke="#111" stroke-width="0.25">-2</text>
<line x1="741.60" y1="580.20" x2="741.60" y2="583.40" stroke="#2a2a2a" stroke-width="1.40"/>
<text x="778.10" y="594.40" font-family="Liberation Sans, Arial, sans-serif" font-size="9.60" font-weight="normal" text-anchor="middle" fill="#111" stroke="#111" stroke-width="0.25">0</text>
<text x="786.20" y="580.10" font-family="Liberation Sans, Arial, sans-serif" font-size="9.50" font-weight="normal" text-anchor="middle" fill="#111" stroke="#111" stroke-width="0.25">0</text>
<line x1="775.10" y1="550.65" x2="778.10" y2="550.65" stroke="#2a2a2a" stroke-width="1.30"/>
<line x1="773.10" y1="523.50" x2="778.10" y2="523.50" stroke="#2a2a2a" stroke-width="1.30"/>
<text x="786.20" y="525.80" font-family="Liberation Sans, Arial, sans-serif" font-size="9.50" font-weight="normal" text-anchor="middle" fill="#111" stroke="#111" stroke-width="0.25">2</text>
<line x1="775.10" y1="496.35" x2="778.10" y2="496.35" stroke="#2a2a2a" stroke-width="1.30"/>
<line x1="773.10" y1="469.20" x2="778.10" y2="469.20" stroke="#2a2a2a" stroke-width="1.30"/>
<text x="786.20" y="471.50" font-family="Liberation Sans, Arial, sans-serif" font-size="9.50" font-weight="normal" text-anchor="middle" fill="#111" stroke="#111" stroke-width="0.25">4</text>
<line x1="775.10" y1="442.05" x2="778.10" y2="442.05" stroke="#2a2a2a" stroke-width="1.30"/>
<line x1="773.10" y1="414.90" x2="778.10" y2="414.90" stroke="#2a2a2a" stroke-width="1.30"/>
<text x="786.20" y="417.20" font-family="Liberation Sans, Arial, sans-serif" font-size="9.50" font-weight="normal" text-anchor="middle" fill="#111" stroke="#111" stroke-width="0.25">6</text>
<line x1="775.10" y1="387.75" x2="778.10" y2="387.75" stroke="#2a2a2a" stroke-width="1.30"/>
<line x1="773.10" y1="360.60" x2="778.10" y2="360.60" stroke="#2a2a2a" stroke-width="1.30"/>
<text x="786.20" y="362.90" font-family="Liberation Sans, Arial, sans-serif" font-size="9.50" font-weight="normal" text-anchor="middle" fill="#111" stroke="#111" stroke-width="0.25">8</text>
<polyline points="612.0,580.2 616.0,573.5 624.4,558.9 632.9,543.5 641.3,527.3 649.6,511.3 657.8,495.5 666.0,481.0 674.2,467.7 682.6,455.6 690.1,445.4 697.6,436.4 704.7,428.4 711.6,422.2 718.4,416.8 724.7,412.2 731.0,408.4 737.1,405.3 743.1,402.4 748.7,399.9 754.5,395.4 759.8,393.1 764.6,391.0 769.4,389.4 773.5,387.6 777.0,386.6" fill="none" stroke="#4a4a4a" stroke-width="1.0"/>
<clipPath id="cpd"><rect x="440" y="320" width="338.1" height="270"/></clipPath><g clip-path="url(#cpd)">
<rect x="613.40" y="570.90" width="5.20" height="5.20" fill="#000"/>
<rect x="621.80" y="556.30" width="5.20" height="5.20" fill="#000"/>
<rect x="630.30" y="540.90" width="5.20" height="5.20" fill="#000"/>
<rect x="638.70" y="524.70" width="5.20" height="5.20" fill="#000"/>
<rect x="647.00" y="508.70" width="5.20" height="5.20" fill="#000"/>
<rect x="655.20" y="492.90" width="5.20" height="5.20" fill="#000"/>
<rect x="663.40" y="478.40" width="5.20" height="5.20" fill="#000"/>
<rect x="671.60" y="465.10" width="5.20" height="5.20" fill="#000"/>
<rect x="680.00" y="453.00" width="5.20" height="5.20" fill="#000"/>
<rect x="687.50" y="442.80" width="5.20" height="5.20" fill="#000"/>
<rect x="695.00" y="433.80" width="5.20" height="5.20" fill="#000"/>
<rect x="702.10" y="425.80" width="5.20" height="5.20" fill="#000"/>
<rect x="709.00" y="419.60" width="5.20" height="5.20" fill="#000"/>
<rect x="715.80" y="414.20" width="5.20" height="5.20" fill="#000"/>
<rect x="722.10" y="409.60" width="5.20" height="5.20" fill="#000"/>
<rect x="728.40" y="405.80" width="5.20" height="5.20" fill="#000"/>
<rect x="734.50" y="402.70" width="5.20" height="5.20" fill="#000"/>
<rect x="740.50" y="399.80" width="5.20" height="5.20" fill="#000"/>
<rect x="746.10" y="397.30" width="5.20" height="5.20" fill="#000"/>
<rect x="751.90" y="392.80" width="5.20" height="5.20" fill="#000"/>
<rect x="757.20" y="390.50" width="5.20" height="5.20" fill="#000"/>
<rect x="762.00" y="388.40" width="5.20" height="5.20" fill="#000"/>
<rect x="766.80" y="386.80" width="5.20" height="5.20" fill="#000"/>
<rect x="770.90" y="385.00" width="5.20" height="5.20" fill="#000"/>
<rect x="774.40" y="384.00" width="5.20" height="5.20" fill="#000"/>
</g>
<text transform="translate(154.75,289.80) scale(1.0514,1)" font-family="'Liberation Sans', Arial, sans-serif" font-size="14.0" fill="#111" stroke="#111" stroke-width="0.30">Particle Size(&#956;m)</text>
<text transform="translate(568.75,290.00) scale(1.0524,1)" font-family="'Liberation Sans', Arial, sans-serif" font-size="14.0" fill="#111" stroke="#111" stroke-width="0.30">Particle Size(&#956;m)</text>
<text transform="translate(154.75,616.00) scale(1.0514,1)" font-family="'Liberation Sans', Arial, sans-serif" font-size="14.0" fill="#111" stroke="#111" stroke-width="0.30">Particle Size(&#956;m)</text>
<text transform="translate(550.42,616.20) scale(1.0783,1)" font-family="'Liberation Sans', Arial, sans-serif" font-size="13.8" fill="#111" stroke="#111" stroke-width="0.30">Coercivity, H<tspan font-size="7.8" dy="5.8">cj</tspan><tspan dy="-5.8">(kOe)</tspan></text>
<text transform="translate(154.47,313.10) scale(1.0316,1)" font-family="'Liberation Sans', Arial, sans-serif" font-size="17" font-weight="bold" fill="#111" stroke="#111" stroke-width="0.20">(a)</text>
<text transform="translate(179.82,312.80) scale(0.9753,1)" font-family="'Liberation Serif', 'Times New Roman', serif" font-size="18.7" fill="#111" stroke="#111" stroke-width="0.25">Remanence</text>
<text transform="translate(559.40,312.90) scale(0.9950,1)" font-family="'Liberation Sans', Arial, sans-serif" font-size="17" font-weight="bold" fill="#111" stroke="#111" stroke-width="0.20">(b)</text>
<text transform="translate(585.73,312.80) scale(0.9662,1)" font-family="'Liberation Serif', 'Times New Roman', serif" font-size="18.7" fill="#111" stroke="#111" stroke-width="0.25">Coercivity</text>
<text transform="translate(104.16,641.30) scale(1.0368,1)" font-family="'Liberation Sans', Arial, sans-serif" font-size="17" font-weight="bold" fill="#111" stroke="#111" stroke-width="0.20">(c)</text>
<text transform="translate(129.13,640.70) scale(0.9668,1)" font-family="'Liberation Serif', 'Times New Roman', serif" font-size="18.7" fill="#111" stroke="#111" stroke-width="0.25">Magnetic Energy Product</text>
<text transform="translate(511.26,642.10) scale(1.0350,1)" font-family="'Liberation Sans', Arial, sans-serif" font-size="17" font-weight="bold" fill="#111" stroke="#111" stroke-width="0.20">(d)</text>
<text transform="translate(538.44,641.60) scale(0.9625,1)" font-family="'Liberation Serif', 'Times New Roman', serif" font-size="18.7" fill="#111" stroke="#111" stroke-width="0.25">Demagnetization Curve</text>
<text transform="translate(452.05,348.20) scale(1.0491,1)" font-family="'Liberation Sans', Arial, sans-serif" font-size="10.5" fill="#111" stroke="#111" stroke-width="0.30">B<tspan font-size="6.3" dy="4.2">r</tspan><tspan dy="-4.2">: 7.02kGs</tspan></text>
<text transform="translate(451.94,364.90) scale(1.0571,1)" font-family="'Liberation Sans', Arial, sans-serif" font-size="10.5" fill="#111" stroke="#111" stroke-width="0.30">H<tspan font-size="6.3" dy="4.0">cj</tspan><tspan dy="-4.0">: 4.56kOe</tspan></text>
<text transform="translate(451.54,382.40) scale(1.0573,1)" font-family="'Liberation Sans', Arial, sans-serif" font-size="10.5" fill="#111" stroke="#111" stroke-width="0.30">(BH)<tspan font-size="6.3" dy="4.3">max</tspan><tspan dy="-4.3">: 7.13MGOe</tspan></text>
<text transform="translate(12.10,203.93) rotate(-90) scale(1.0297,1)" font-family="'Liberation Sans', Arial, sans-serif" font-size="14.0" fill="#111" stroke="#111" stroke-width="0.30">Remanence, B<tspan font-size="8.3" dy="5.6">r</tspan><tspan dy="-5.6">(kGs)</tspan></text>
<text transform="translate(415.70,200.15) rotate(-90) scale(1.0513,1)" font-family="'Liberation Sans', Arial, sans-serif" font-size="14.0" fill="#111" stroke="#111" stroke-width="0.30">Coercivity, H<tspan font-size="8.3" dy="5.8">cj</tspan><tspan dy="-5.8">(kOe)</tspan></text>
<text transform="translate(12.80,603.84) rotate(-90) scale(1.0368,1)" font-family="'Liberation Sans', Arial, sans-serif" font-size="14.0" fill="#111" stroke="#111" stroke-width="0.30">Magnetic Energy Product, (BH)<tspan font-size="8.5" dy="5.8">max</tspan><tspan dy="-5.8">(MGOe)</tspan></text>
<text transform="translate(806.70,521.92) rotate(-90) scale(1.0192,1)" font-family="'Liberation Sans', Arial, sans-serif" font-size="11.8" fill="#111" stroke="#111" stroke-width="0.30">Renenance, B<tspan font-size="7" dy="4.8">r</tspan><tspan dy="-4.8">(kGs)</tspan></text>
</svg>
</body></html>
